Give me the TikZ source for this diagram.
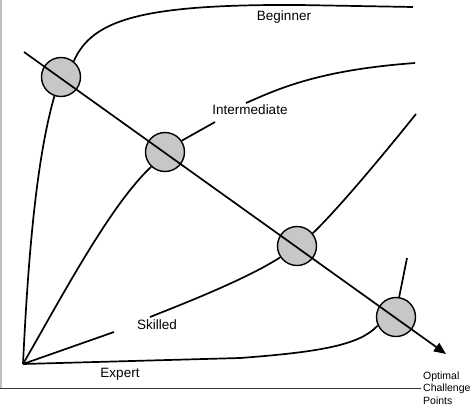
\documentclass[tikz,border=0pt]{standalone}
\usepackage{fontspec}
\setmainfont{Liberation Sans}
\usetikzlibrary{arrows.meta, positioning}
\tikzset{
    chal/.style={circle, draw, line width=1.4pt, fill=black!22, minimum size=39pt, inner sep=0pt},
    curve/.style={line width=1.7pt},
    arrow/.style={-{Triangle[length=12pt, width=10pt]}, line width=1.7pt},
    lbl/.style={font=\fontsize{13.5}{16}\selectfont, inner sep=0pt}
}
\begin{document}
\begin{tikzpicture}[x=1pt, y=-1pt]
        \useasboundingbox (0,0) rectangle (474,408);
        \draw [gray!50, line width=2pt] (1,0) -- (1,388);
        \node [align=left, anchor=west, inner xsep=2pt, font=\fontsize{10.5}{12.5}\selectfont] (opt) at (421,388) {Optimal\\Challenge\\Points};
        \draw [black!80, line width=1pt] (0,388) -- (opt.west);
        \coordinate (o) at (23,364);
        \node [chal] (c1) at (61,77) {};
        \node [chal] (c2) at (165,152) {};
        \node [chal] (c3) at (297,246) {};
        \node [chal] (c4) at (396,317) {};
        \node [lbl] (beginner) at (284,17) {Beginner};
        \node [lbl] (inter) at (250,110) {Intermediate};
        \node [lbl] (skilled) at (157,325) {Skilled};
        \node [lbl] (expert) at (120,374) {Expert};
        \coordinate (b1) at (413,7);
        \coordinate (i1) at (215,122);
        \coordinate (i2) at (246,103);
        \coordinate (i3) at (415,63);
        \coordinate (s1) at (114,332);
        \coordinate (s2) at (150,317);
        \coordinate (s3) at (416,114);
        \coordinate (e1) at (240,358);
        \coordinate (e2) at (407,258);
        \coordinate (d0) at (24,52);
        \coordinate (d1) at (446,354);
        \draw [curve] (o) .. controls (28,260) and (36,160) .. (c1.251);
        \draw [curve] (c1.51) .. controls (92,20) and (140,4) .. (300,5) -- (b1);
        \draw [curve] (o) .. controls (60,300) and (110,205) .. (c2.227);
        \draw [curve] (c2.34) -- (i1);
        \draw [curve] (i2) .. controls (280,88) and (320,70) .. (i3);
        \draw [curve] (o) -- (s1);
        \draw [curve] (s2) .. controls (180,305) and (245,280) .. (c3.214);
        \draw [curve] (c3.39) .. controls (335,212) and (375,165) .. (s3);
        \draw [curve] (o) -- (e1) .. controls (320,352) and (360,345) .. (c4.205);
        \draw [curve] (c4.81) -- (e2);
        \draw [arrow] (d0) -- (d1);
    \end{tikzpicture}
\end{document}
